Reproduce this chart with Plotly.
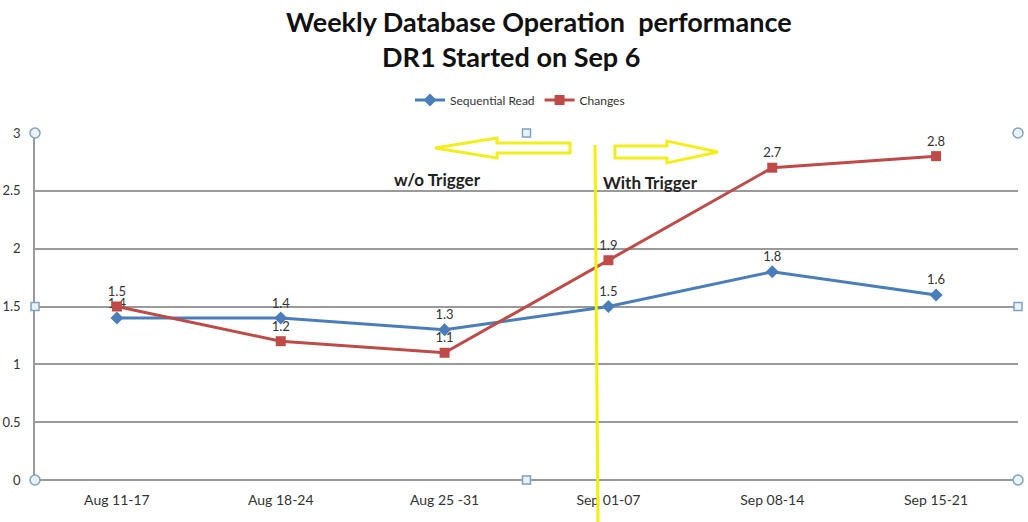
import plotly.graph_objects as go

weeks = ["Aug 11-17", "Aug 18-24", "Aug 25 -31", "Sep 01-07", "Sep 08-14", "Sep 15-21"]
sequential_read = [1.4, 1.4, 1.3, 1.5, 1.8, 1.6]
changes = [1.5, 1.2, 1.1, 1.9, 2.7, 2.8]

W, H = 1028, 522
L, R, T, B = 35, 1018, 133, 480

def px(x):
    return (x - L) / (R - L)

def py(y):
    return (B - y) / (B - T)

BLUE = "#4A7EBB"
RED = "#BE4B48"
FONT = "Lato"

fig = go.Figure()
fig.add_trace(go.Scatter(
    x=weeks, y=sequential_read, name="Sequential Read", mode="lines+markers+text",
    line=dict(color=BLUE, width=3), marker=dict(symbol="diamond", size=10, color=BLUE),
    text=[str(v) for v in sequential_read], textposition="top center",
    textfont=dict(size=13, color="#333333", family=FONT)))
fig.add_trace(go.Scatter(
    x=weeks, y=changes, name="Changes", mode="lines+markers+text",
    line=dict(color=RED, width=3), marker=dict(symbol="square", size=10, color=RED),
    text=[str(v) for v in changes], textposition="top center",
    textfont=dict(size=13, color="#333333", family=FONT)))

shapes = []
# yellow divider line
shapes.append(dict(type="line", xref="paper", yref="paper",
                   x0=px(595), y0=py(145), x1=px(598), y1=py(522),
                   line=dict(color="#F5F000", width=3), layer="above"))
# left hollow arrow
lp = [(435, 148), (497, 138), (497, 143), (570, 143), (570, 153), (497, 153), (497, 158)]
path = "M " + " L ".join(f"{px(a):.4f},{py(b):.4f}" for a, b in lp) + " Z"
shapes.append(dict(type="path", xref="paper", yref="paper", path=path,
                   line=dict(color="#F2EE1C", width=3), fillcolor="rgba(0,0,0,0)"))
rp = [(615, 146), (667, 146), (667, 141), (718, 152), (667, 163), (667, 158), (615, 158)]
path = "M " + " L ".join(f"{px(a):.4f},{py(b):.4f}" for a, b in rp) + " Z"
shapes.append(dict(type="path", xref="paper", yref="paper", path=path,
                   line=dict(color="#F2EE1C", width=3), fillcolor="rgba(0,0,0,0)"))
# selection handles
for (hx, hy) in [(L, T), (R, T), (L, B), (R, B)]:
    shapes.append(dict(type="circle", xref="paper", yref="paper",
                       x0=px(hx - 5), x1=px(hx + 5), y0=py(hy + 5), y1=py(hy - 5),
                       line=dict(color="#7FA3C0", width=1.5), fillcolor="#EAF2F8"))
for (hx, hy) in [((L + R) / 2, T), ((L + R) / 2, B), (L, (T + B) / 2), (R, (T + B) / 2)]:
    shapes.append(dict(type="rect", xref="paper", yref="paper",
                       x0=px(hx - 4), x1=px(hx + 4), y0=py(hy + 4), y1=py(hy - 4),
                       line=dict(color="#7FA3C0", width=1.5), fillcolor="#EAF2F8"))

def note(text, x, y, size, color):
    return dict(text=text, xref="paper", yref="paper", x=px(x), y=py(y),
                xanchor="center", yanchor="middle", showarrow=False,
                font=dict(size=size, color=color, family=FONT))

annotations = [
    note("<b>Weekly Database Operation  performance</b>", 539, 22, 27, "#111111"),
    note("<b>DR1 Started on Sep 6</b>", 511, 56, 27, "#111111"),
    note("<b>w/o Trigger</b>", 437, 179, 17, "#222222"),
    note("<b>With Trigger</b>", 650, 182, 17, "#222222"),
]

fig.update_layout(
    width=W, height=H,
    margin=dict(l=L, r=W - R, t=T, b=H - B),
    paper_bgcolor="white", plot_bgcolor="white",
    showlegend=True,
    legend=dict(orientation="h", x=px(520), xanchor="center", y=py(100), yanchor="middle",
                font=dict(size=12, color="#333333", family=FONT), bgcolor="rgba(0,0,0,0)"),
    xaxis=dict(type="category", range=[-0.5, 5.5], showgrid=False, showline=False, ticks="",
               automargin=False, ticklabelstandoff=10,
               tickfont=dict(size=14, color="#333333", family=FONT)),
    yaxis=dict(range=[0, 3], dtick=0.5, showgrid=True, gridcolor="#9A9A9A", gridwidth=2,
               showline=True, linecolor="#9A9A9A", linewidth=1.5, zeroline=True,
               zerolinecolor="#9A9A9A", zerolinewidth=2, ticks="",
               automargin=False, ticklabelstandoff=10,
               tickfont=dict(size=13, color="#333333", family=FONT)),
    shapes=shapes, annotations=annotations,
)

fig.write_html("out.html", config={"displayModeBar": False},
               post_script="document.body.style.margin='0';document.body.style.overflow='hidden';")
